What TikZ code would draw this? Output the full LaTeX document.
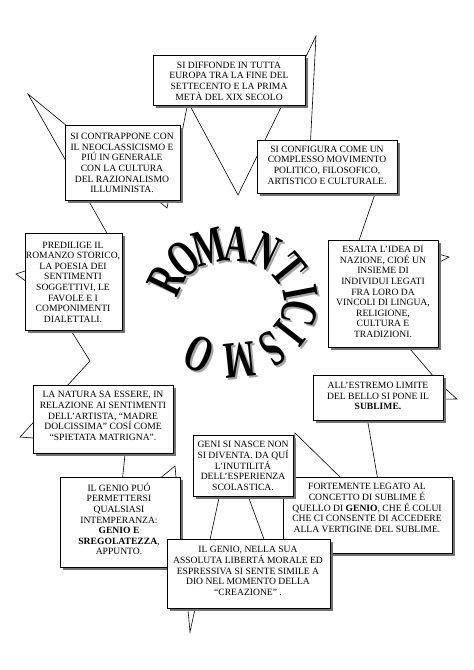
\documentclass[tikz,border=0pt]{standalone}
\usepackage{fontspec}
\setmainfont{Liberation Serif}
\newfontfamily\titlefont{Liberation Serif}
\usetikzlibrary{calc}
\tikzset{
  box/.style={draw=black, fill=white, line width=0.6pt, line join=miter},
  star/.style={draw=black, fill=white, line width=0.6pt, line join=miter},
  shade/.style={fill=black!55},
  txt/.style={align=center, font=\fontsize{9.6}{10.6}\selectfont, inner sep=0pt},
  ttl/.style={font=\titlefont\bfseries\fontsize{52}{52}\selectfont, inner sep=0pt},
}
\newcommand\shbox[4]{\fill[shade] (#1+3,#2+3) rectangle (#3+3,#4+3);\draw[box] (#1,#2) rectangle (#3,#4);}
\begin{document}
\begin{tikzpicture}[x=1pt,y=-1pt]
\useasboundingbox (0,0) rectangle (474,670);
\fill[white] (0,0) rectangle (474,670);
% background explosion star
\coordinate (s1) at (316,36);
\coordinate (s2) at (238,195);
\coordinate (s3) at (188,102);
\coordinate (s4) at (167,208);
\coordinate (s5) at (28,94);
\coordinate (s6) at (112,242);
\coordinate (s7) at (16,274);
\coordinate (s8) at (52,300);
\coordinate (s9) at (90,361);
\coordinate (s10) at (20,437);
\coordinate (s11) at (126,445);
\coordinate (s12) at (119,512);
\coordinate (s13) at (175,466);
\coordinate (s14) at (190,632);
\coordinate (s15) at (230,447);
\coordinate (s16) at (282,588);
\coordinate (s17) at (295,433);
\coordinate (s18) at (385,521);
\coordinate (s19) at (364,400);
\coordinate (s20) at (457,399);
\coordinate (s21) at (440,384);
\coordinate (s22) at (369,301);
\coordinate (s23) at (449,257);
\coordinate (s24) at (420,249);
\coordinate (s25) at (355,252);
\coordinate (s26) at (385,165);
\coordinate (s27) at (309,170);
\draw[star] (s1) -- (s2) -- (s3) -- (s4) -- (s5) -- (s6) -- (s7) -- (s8) -- (s9)
  -- (s10) -- (s11) -- (s12) -- (s13) -- (s14) -- (s15) -- (s16) -- (s17) -- (s18)
  -- (s19) -- (s20) -- (s21) -- (s22) -- (s23) -- (s24) -- (s25) -- (s26) -- (s27) -- cycle;
% title
\begin{scope}[shift={(231,302)}, y=1pt]
\foreach \l/\t in {R/158, O/133, M/108, A/85, N/60, T/34, I/9, C/-11, I/-33, S/-54, M/-83, O/-117}{
  \pgfmathsetmacro\ph{atan2(sin(\t)/58, cos(\t)/70)}
  \node[ttl, text=black!35, rotate=\ph-90] at ($(\t:70 and 58)+(2,-2)$) {\scalebox{0.64}[1]{\l}};
  \node[ttl, rotate=\ph-90] (L\t) at (\t:70 and 58) {\scalebox{0.64}[1]{\l}};
}
\end{scope}
% boxes
\shbox{257}{140}{397}{193}
\node[txt] (C) at (327,165) {SI CONFIGURA COME UN\\COMPLESSO MOVIMENTO\\POLITICO, FILOSOFICO,\\ARTISTICO E CULTURALE.};
\shbox{153}{55}{305}{105}
\node[txt] (A) at (229,81) {SI DIFFONDE IN TUTTA\\EUROPA TRA LA FINE DEL\\SETTECENTO E LA PRIMA\\METÀ DEL XIX SECOLO};
\shbox{65}{125}{180}{200}
\node[txt] (B) at (122,163) {SI CONTRAPPONE CON\\IL NEOCLASSICISMO E\\PIÚ IN GENERALE\\CON LA CULTURA\\DEL RAZIONALISMO\\ILLUMINISTA.};
\shbox{25}{233}{122}{330}
\node[txt] (D) at (73,282) {PREDILIGE IL\\ROMANZO STORICO,\\LA POESIA DEI\\SENTIMENTI\\SOGGETTIVI, LE\\FAVOLE E I\\COMPONIMENTI\\DIALETTALI.};
\shbox{328}{240}{438}{347}
\node[txt] (E) at (383,292) {ESALTA L’IDEA DI\\NAZIONE, CIOÉ UN\\INSIEME DI\\INDIVIDUI LEGATI\\FRA LORO DA\\VINCOLI DI LINGUA,\\RELIGIONE,\\CULTURA E\\TRADIZIONI.};
\shbox{313}{375}{443}{420}
\node[txt] (F) at (378,396) {ALL’ESTREMO LIMITE\\DEL BELLO SI PONE IL\\\textbf{SUBLIME.}};
\shbox{33}{385}{173}{453}
\node[txt] (G) at (103,416) {LA NATURA SA ESSERE, IN\\RELAZIONE AI SENTIMENTI\\DELL’ARTISTA, “MADRE\\DOLCISSIMA” COSÍ COME\\“SPIETATA MATRIGNA”.};
\shbox{283}{477}{452}{553}
\node[txt] (I) at (367,508) {FORTEMENTE LEGATO AL\\CONCETTO DI SUBLIME É\\QUELLO DI \textbf{GENIO}, CHE É COLUI\\CHE CI CONSENTE DI ACCEDERE\\ALLA VERTIGINE DEL SUBLIME.};
\shbox{60}{477}{180}{567}
\node[txt] (J) at (119,519) {IL GENIO PUÓ\\PERMETTERSI\\QUALSIASI\\INTEMPERANZA:\\\textbf{GENIO E}\\\textbf{SREGOLATEZZA},\\APPUNTO.};
\shbox{193}{435}{293}{496}
\node[txt] (H) at (243,466) {GENI SI NASCE NON\\SI DIVENTA. DA QUÍ\\L’INUTILITÁ\\DELL’ESPERIENZA\\SCOLASTICA.};
\shbox{167}{539}{330}{608}
\node[txt] (K) at (248,571) {IL GENIO, NELLA SUA\\ASSOLUTA LIBERTÁ MORALE ED\\ESPRESSIVA SI SENTE SIMILE A\\DIO NEL MOMENTO DELLA\\“CREAZIONE” .};
\end{tikzpicture}
\end{document}
